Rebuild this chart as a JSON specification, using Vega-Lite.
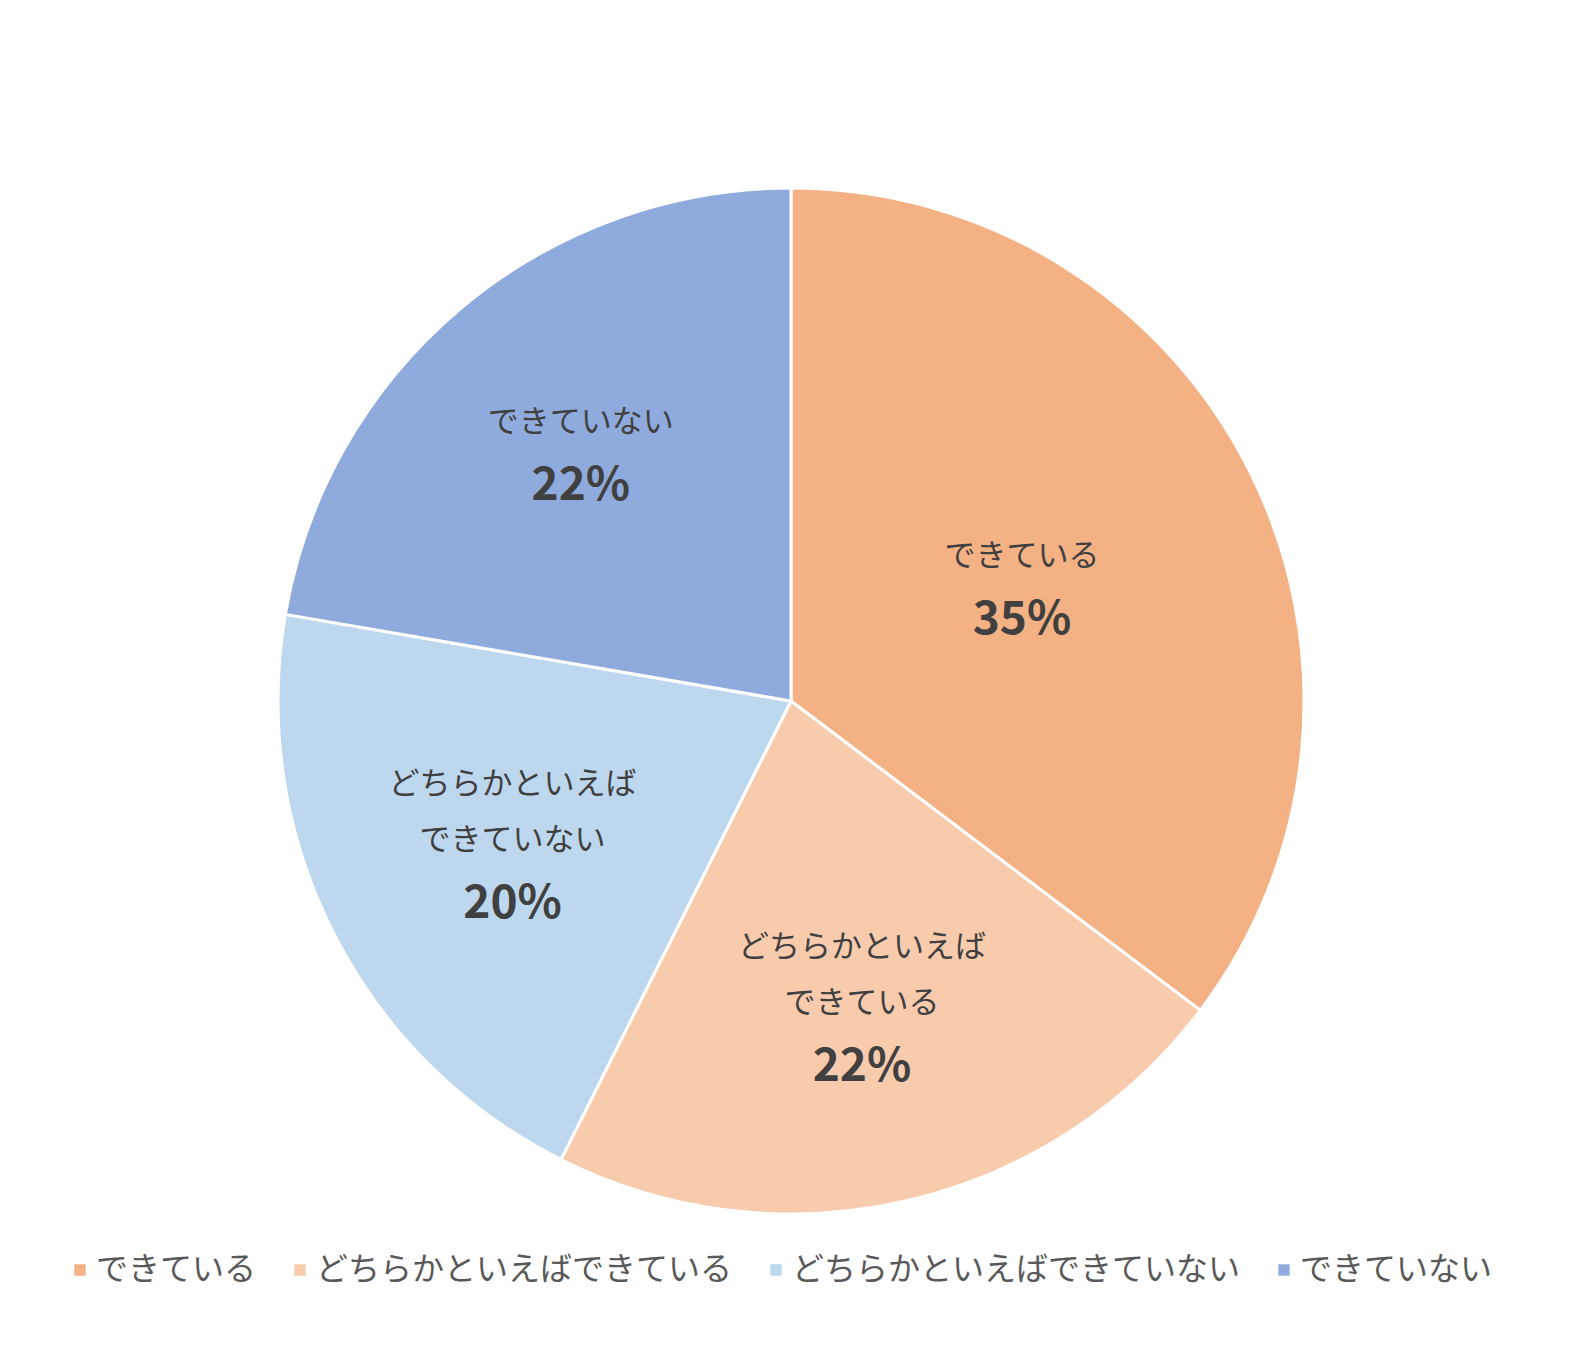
{
  "$schema": "https://vega.github.io/schema/vega-lite/v6.json",
  "width": 1582,
  "height": 1402,
  "autosize": "none",
  "padding": 0,
  "background": "white",
  "data": {
    "values": [
      {"no": 1, "category": "できている", "label": "できている", "value": 35.3, "pct": "35%"},
      {"no": 2, "category": "どちらかといえばできている", "label": "どちらかといえば\nできている", "value": 22.1, "pct": "22%"},
      {"no": 3, "category": "どちらかといえばできていない", "label": "どちらかといえば\nできていない", "value": 20.3, "pct": "20%"},
      {"no": 4, "category": "できていない", "label": "できていない", "value": 22.3, "pct": "22%"}
    ]
  },
  "encoding": {
    "theta": {"field": "value", "type": "quantitative", "stack": true},
    "order": {"field": "no", "type": "quantitative"}
  },
  "layer": [
    {
      "mark": {"type": "arc", "outerRadius": 513, "stroke": "white", "strokeWidth": 3},
      "encoding": {
        "color": {
          "field": "category",
          "type": "nominal",
          "scale": {
            "domain": ["できている", "どちらかといえばできている", "どちらかといえばできていない", "できていない"],
            "range": ["#F4B183", "#F8CBAD", "#BDD7EE", "#8FAADC"]
          },
          "legend": {
            "title": null,
            "orient": "none",
            "direction": "horizontal",
            "legendX": 64,
            "legendY": 1254,
            "padding": 0,
            "symbolType": "square",
            "symbolSize": 130,
            "symbolStrokeWidth": 0,
            "symbolOpacity": 1,
            "labelFontSize": 32,
            "labelColor": "#595959",
            "labelOffset": 0,
            "labelLimit": 1000,
            "columnPadding": 27
          }
        }
      }
    },
    {
      "mark": {"type": "text", "radius": 258, "fontSize": 31, "color": "#404040", "baseline": "bottom", "dy": -13},
      "encoding": {
        "text": {"condition": {"test": "datum.no == 1", "field": "label"}, "value": ""}
      }
    },
    {
      "mark": {"type": "text", "radius": 258, "fontSize": 46, "fontWeight": "bold", "color": "#404040", "baseline": "middle", "dy": 34},
      "encoding": {
        "text": {"condition": {"test": "datum.no == 1", "field": "pct"}, "value": ""}
      }
    },
    {
      "mark": {"type": "text", "radius": 326, "fontSize": 31, "color": "#404040", "baseline": "bottom", "dy": -13},
      "encoding": {
        "text": {"condition": {"test": "datum.no == 4", "field": "label"}, "value": ""}
      }
    },
    {
      "mark": {"type": "text", "radius": 326, "fontSize": 46, "fontWeight": "bold", "color": "#404040", "baseline": "middle", "dy": 34},
      "encoding": {
        "text": {"condition": {"test": "datum.no == 4", "field": "pct"}, "value": ""}
      }
    },
    {
      "mark": {"type": "text", "radius": 312, "fontSize": 31, "color": "#404040", "baseline": "bottom", "lineBreak": "\n", "lineHeight": 56, "dy": -41},
      "encoding": {
        "text": {"condition": {"test": "datum.no == 2 || datum.no == 3", "field": "label"}, "value": ""}
      }
    },
    {
      "mark": {"type": "text", "radius": 312, "fontSize": 46, "fontWeight": "bold", "color": "#404040", "baseline": "middle", "dy": 62},
      "encoding": {
        "text": {"condition": {"test": "datum.no == 2 || datum.no == 3", "field": "pct"}, "value": ""}
      }
    }
  ],
  "config": {
    "font": "Noto Sans CJK JP",
    "view": {"stroke": "#C8C8C8", "strokeWidth": 4, "fill": "white"}
  }
}
